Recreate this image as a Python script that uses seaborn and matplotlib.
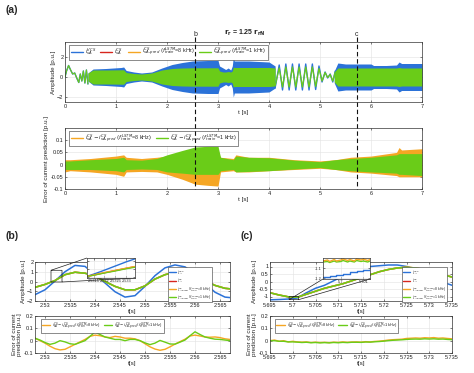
import numpy as np
import matplotlib
matplotlib.use("Agg")
import matplotlib.pyplot as plt
import seaborn as sns
from matplotlib.lines import Line2D
from matplotlib.ticker import FormatStrFormatter
from matplotlib.transforms import blended_transform_factory

# ------------------ colours ------------------
BLUE = '#2b72d8'
RED = '#d7261e'
ORANGE = '#f5a623'
GREEN = '#6acc18'

# ------------------ (a) amplitude, 0..7 s ------------------
t_start = [0, 0.03, 0.07, 0.11, 0.15, 0.19, 0.23, 0.27, 0.3, 0.33, 0.36, 0.39, 0.42, 0.45]
v_start = [0.0, 0.6, 1.15, 0.7, 0.3, 0.4, -0.1, -0.55, 0.3, -0.4, 0.6, -0.6, 0.7, -0.7]

t_band1 = [0.45, 0.55, 0.8, 1.1, 1.15, 1.2, 1.35, 1.5, 1.7, 1.9, 2.1, 2.3, 2.5, 2.8, 3.0,
           3.03, 3.1, 3.15, 3.2, 3.25, 3.28, 3.3, 3.32, 3.4, 3.6, 3.8, 4.0, 4.12]
blue_amp1 = [0.4, 0.8, 0.85, 0.95, 1.0, 0.65, 0.5, 0.4, 0.5, 0.9, 1.25, 1.45, 1.6, 1.65, 1.65,
             1.1, 0.9, 0.75, 0.9, 0.7, 1.1, 2.0, 1.6, 1.6, 1.6, 1.55, 1.5, 1.1]
green_amp1 = [0.4, 0.7, 0.7, 0.72, 0.72, 0.45, 0.35, 0.3, 0.4, 0.7, 0.85, 0.9, 0.92, 0.92, 0.92,
              0.6, 0.5, 0.5, 0.55, 0.5, 0.6, 1.0, 0.95, 0.95, 0.95, 0.95, 0.95, 0.9]

t_lf = [4.12, 4.2, 4.265, 4.33, 4.395, 4.46, 4.525, 4.59, 4.655, 4.72, 4.785, 4.85, 4.915,
        4.98, 5.04, 5.1, 5.15, 5.2, 5.25, 5.3]
blue_lf = [-1.1, 1.2, -1.3, 1.3, -1.3, 1.3, -1.3, 1.3, -1.3, 1.3, -1.3, 1.3, -1.25, 1.1,
           -0.5, 0.5, -0.1, 0.3, -0.5, 0.6]
green_lf = [-0.9, 0.9, -1.0, 1.0, -1.0, 1.0, -1.0, 1.0, -1.0, 1.0, -1.0, 1.0, -0.95, 0.85,
            -0.4, 0.45, -0.05, 0.25, -0.4, 0.5]

t_band2 = [5.28, 5.35, 5.5, 5.7, 5.9, 6.0, 6.05, 6.3, 6.5, 6.55, 6.6, 6.8, 7.0]
blue_amp2 = [0.6, 1.4, 1.3, 1.3, 1.3, 1.3, 1.15, 1.15, 1.2, 1.5, 1.35, 1.35, 1.35]
green_amp2 = [0.5, 0.9, 0.9, 0.9, 0.9, 0.9, 0.9, 0.9, 0.9, 0.95, 0.9, 0.9, 0.9]

# ------------------ (a) prediction error envelopes ------------------
t_err = [0.0, 0.1, 0.5, 1.0, 1.15, 1.2, 1.5, 1.8, 2.0, 2.3, 2.55, 2.8, 3.0, 3.05, 3.3, 3.35,
         3.6, 4.0, 4.5, 5.0, 5.3, 5.6, 6.0, 6.5, 6.55, 6.6, 7.0]
orange_hi = [0.02, 0.02, 0.025, 0.035, 0.04, 0.03, 0.025, 0.03, 0.035, 0.045, 0.05, 0.05, 0.05,
             0.03, 0.025, 0.04, 0.03, 0.03, 0.02, 0.015, 0.02, 0.03, 0.035, 0.05, 0.07, 0.06, 0.065]
orange_lo = [-0.03, -0.025, -0.03, -0.04, -0.048, -0.03, -0.028, -0.03, -0.04, -0.06, -0.08,
             -0.085, -0.088, -0.03, -0.025, -0.03, -0.03, -0.025, -0.02, -0.015, -0.02, -0.03,
             -0.035, -0.045, -0.05, -0.05, -0.05]
green_hi = [0.015, 0.015, 0.02, 0.025, 0.03, 0.02, 0.018, 0.025, 0.04, 0.058, 0.072, 0.075, 0.075,
            0.03, 0.02, 0.035, 0.03, 0.028, 0.018, 0.012, 0.02, 0.025, 0.03, 0.04, 0.045, 0.045, 0.045]
green_lo = [-0.02, -0.02, -0.02, -0.025, -0.03, -0.02, -0.018, -0.02, -0.03, -0.035, -0.04,
            -0.04, -0.04, -0.025, -0.02, -0.03, -0.028, -0.025, -0.018, -0.012, -0.02, -0.025,
            -0.03, -0.035, -0.04, -0.04, -0.045]

t_marks = [2.55, 5.72]
mark_names = ['b', 'c']

# ------------------ (b) zoom around 2.55 s ------------------
t_b = [2.528, 2.530, 2.532, 2.534, 2.536, 2.538, 2.540, 2.542, 2.544, 2.546, 2.548, 2.550,
       2.552, 2.554, 2.556, 2.558, 2.560, 2.562, 2.564, 2.566, 2.567]
blue_b = [-1.35, -0.85, 0.05, 1.0, 1.65, 1.55, 0.7, -0.15, -1.05, -1.6, -1.45, -0.5, 0.6,
          1.4, 1.7, 1.5, 0.8, -0.2, -1.1, -1.6, -1.65]
green_b = [-0.6, -0.3, 0.1, 0.7, 0.95, 0.85, 0.55, 0.0, -0.5, -0.85, -0.85, -0.45, 0.25,
           0.7, 0.95, 0.95, 0.6, 0.1, -0.4, -0.7, -0.75]

t_bi = [2.5312, 2.5315, 2.5318, 2.5321, 2.5324, 2.5327, 2.533, 2.5334]
blue_bi = [0.05, 0.18, 0.32, 0.47, 0.62, 0.77, 0.92, 1.1]
red_bi = [0.05, 0.12, 0.21, 0.29, 0.37, 0.45, 0.53, 0.63]
orange_bi = [0.05, 0.13, 0.22, 0.3, 0.38, 0.46, 0.54, 0.64]
green_bi = [0.05, 0.11, 0.19, 0.27, 0.34, 0.42, 0.5, 0.59]

t_be = [2.528, 2.529, 2.530, 2.531, 2.532, 2.533, 2.534, 2.535, 2.536, 2.537, 2.538, 2.539,
        2.540, 2.541, 2.542, 2.543, 2.544, 2.545, 2.546, 2.547, 2.548, 2.549, 2.550, 2.551,
        2.552, 2.553, 2.554, 2.555, 2.556, 2.557, 2.558, 2.559, 2.560, 2.561, 2.562, 2.563,
        2.564, 2.565, 2.566, 2.567]
orange_be = [0.02, 0.0, -0.02, -0.045, -0.065, -0.075, -0.07, -0.05, -0.03, -0.01, 0.01, 0.035,
             0.045, 0.04, 0.03, 0.025, 0.035, 0.03, 0.02, 0.02,
             0.015, 0.0, -0.025, -0.05, -0.068, -0.078, -0.07, -0.05, -0.028, -0.008, 0.012,
             0.038, 0.045, 0.038, 0.03, 0.028, 0.03, 0.025, 0.015, 0.01]
green_be = [0.02, 0.005, -0.015, -0.03, -0.02, 0.0, -0.01, -0.025, -0.03, -0.015, 0.0, 0.035,
            0.07, 0.05, 0.03, 0.02, 0.01, 0.01, 0.0, 0.01,
            0.01, 0.0, -0.018, -0.032, -0.02, 0.002, -0.012, -0.027, -0.028, -0.012, 0.005,
            0.04, 0.072, 0.05, 0.03, 0.02, 0.012, 0.01, 0.005, 0.0]

# ------------------ (c) zoom around 5.7 s ------------------
t_c = [5.695, 5.697, 5.699, 5.701, 5.703, 5.705, 5.707, 5.709, 5.711, 5.713, 5.715, 5.717,
       5.719, 5.721, 5.723, 5.725, 5.727, 5.729, 5.731, 5.733, 5.735]
blue_c = [-1.22, -1.2, -1.17, -1.1, -0.75, -0.45, -0.25, 0.05, 0.35, 0.6, 0.85, 1.0, 1.05,
          1.1, 1.1, 1.0, 0.8, 0.5, 0.2, -0.05, -0.25]
green_c = [-0.75, -0.9, -1.02, -1.05, -0.85, -0.65, -0.45, -0.3, -0.15, 0.05, 0.25, 0.45,
           0.65, 0.8, 0.9, 0.95, 0.9, 0.8, 0.65, 0.45, 0.3]

t_ci = [5.6992, 5.6995, 5.6998, 5.7001, 5.7004, 5.7007, 5.701, 5.7013]
blue_ci = [-1.19, -1.18, -1.17, -1.16, -1.14, -1.13, -1.12, -1.1]
t_ci_noise = [5.6992, 5.6994, 5.6995, 5.6997, 5.6998, 5.7, 5.7001, 5.7003, 5.7004, 5.7006,
              5.7007, 5.7009, 5.701, 5.7012, 5.7013]
orange_ci = [-1.03, -1.02, -1.035, -1.015, -1.03, -1.02, -1.01, -1.025, -1.015, -1.03, -1.01,
             -1.02, -1.012, -1.025, -1.015]
green_ci = [-1.04, -1.035, -1.045, -1.03, -1.04, -1.035, -1.025, -1.04, -1.03, -1.04, -1.025,
            -1.035, -1.03, -1.04, -1.03]

t_ce = [5.695 + 0.001 * i for i in range(41)]
orange_ce = [0.0, 0.005, -0.005, 0.0, -0.01, -0.005, -0.01, -0.012, -0.01, -0.015, -0.012,
             -0.015, -0.013, -0.016, -0.012, -0.014, -0.01, -0.013, -0.011, -0.01, -0.012,
             -0.008, -0.01, -0.006, -0.004, 0.0, 0.005, 0.008, 0.01, 0.012, 0.018, 0.02, 0.022,
             0.02, 0.024, 0.022, 0.025, 0.02, 0.022, 0.018, 0.015]
green_ce = [0.0, 0.0, -0.005, -0.005, -0.01, -0.01, -0.012, -0.015, -0.013, -0.017, -0.015,
            -0.018, -0.016, -0.018, -0.015, -0.017, -0.014, -0.016, -0.013, -0.013, -0.014,
            -0.011, -0.012, -0.009, -0.007, -0.004, 0.0, 0.003, 0.005, 0.007, 0.01, 0.012,
            0.013, 0.012, 0.015, 0.013, 0.015, 0.012, 0.013, 0.01, 0.008]

# ------------------ labels ------------------
LBL_VCS = r'$i_{sA}^{VCS}$'
LBL_CS = r'$i_{sA}^{CS}$'
LBL_P8 = r'$i_{sA,pred}^{CS}$ $(f_{train}^{LSTM}$=8 kHz)'
LBL_P1 = r'$i_{sA,pred}^{CS}$ $(f_{train}^{LSTM}$=1 kHz)'
LBL_E8 = r'$i_{sA}^{CS}-i_{sA,pred}^{CS}$ $(f_{train}^{LSTM}$=8 kHz)'
LBL_E1 = r'$i_{sA}^{CS}-i_{sA,pred}^{CS}$ $(f_{train}^{LSTM}$=1 kHz)'

# ------------------ style ------------------
sns.set_theme(style="whitegrid")
plt.rcParams['font.family'] = ['Liberation Sans', 'DejaVu Sans']
plt.rcParams.update({
    'axes.edgecolor': '#333333', 'axes.linewidth': 0.5,
    'grid.color': '#e2e2e2', 'grid.linewidth': 0.4,
    'xtick.labelsize': 4, 'ytick.labelsize': 4,
    'xtick.direction': 'in', 'ytick.direction': 'in',
    'xtick.major.size': 1.5, 'ytick.major.size': 1.5,
    'xtick.major.width': 0.4, 'ytick.major.width': 0.4,
    'xtick.major.pad': 1.5, 'ytick.major.pad': 1.2,
    'xtick.bottom': True, 'ytick.left': True,
    'xtick.color': '#222222', 'ytick.color': '#222222',
})


def style_ax(ax, xlabel, ylabel):
    ax.set_xlabel(xlabel, fontsize=4.5, labelpad=1)
    ax.set_ylabel(ylabel, fontsize=4.5, labelpad=1)
    ax.tick_params(top=True, right=True)
    for s in ax.spines.values():
        s.set_visible(True)
        s.set_linewidth(0.5)
        s.set_color('#333333')


def line(ax, x, y, color, lw=1.0, **kw):
    sns.lineplot(x=x, y=y, ax=ax, color=color, lw=lw, estimator=None, sort=False,
                 legend=False, **kw)


def legend(ax, colors, labels, size=3.3, spacing=0.3, **kw):
    hs = [Line2D([], [], color=c, lw=1.0) for c in colors]
    leg = ax.legend(hs, labels, fontsize=size, frameon=True, fancybox=False,
                    handlelength=2.2, handletextpad=0.4, borderpad=0.25, labelspacing=spacing,
                    columnspacing=0.8, borderaxespad=0, **kw)
    leg.get_frame().set_edgecolor('#333333')
    leg.get_frame().set_linewidth(0.4)
    leg.get_frame().set_alpha(1)


W, H = 474, 373
fig = plt.figure(figsize=(W / 100, H / 100), dpi=100)


def px_axes(x0, y0, x1, y1):
    return fig.add_axes([x0 / W, 1 - y1 / H, (x1 - x0) / W, (y1 - y0) / H])


# ------------------ (a) ------------------
axA = px_axes(65, 42, 422, 102)
axA.fill_between(t_band1, -np.array(blue_amp1), blue_amp1, color=BLUE, lw=0)
axA.fill_between(t_band2, -np.array(blue_amp2), blue_amp2, color=BLUE, lw=0)
line(axA, t_lf, blue_lf, BLUE, lw=1.0)
line(axA, t_start, v_start, BLUE, lw=1.0)
axA.fill_between(t_band1, -np.array(green_amp1), green_amp1, color=GREEN, lw=0)
axA.fill_between(t_band2, -np.array(green_amp2), green_amp2, color=GREEN, lw=0)
line(axA, t_lf, green_lf, GREEN, lw=0.9)
line(axA, t_start, v_start, GREEN, lw=0.8)
axA.set_xlim(0, 7)
axA.set_ylim(-2.5, 3.5)
axA.set_yticks([-2, 0, 2])
axA.set_xticks(range(8))
style_ax(axA, 't [s]', 'Amplitude [p.u.]')
legend(axA, [BLUE, RED, ORANGE, GREEN], [LBL_VCS, LBL_CS, LBL_P8, LBL_P1], size=3.9,
       spacing=0.2, loc='upper left', bbox_to_anchor=(0.012, 0.95), ncol=4)

axE = px_axes(65, 128, 422, 189)
axE.fill_between(t_err, orange_lo, orange_hi, color=ORANGE, lw=0)
axE.fill_between(t_err, green_lo, green_hi, color=GREEN, lw=0)
axE.set_xlim(0, 7)
axE.set_ylim(-0.1, 0.15)
axE.set_yticks([-0.1, -0.05, 0, 0.05, 0.1])
axE.yaxis.set_major_formatter(FormatStrFormatter('%g'))
axE.set_xticks(range(8))
style_ax(axE, 't [s]', 'Error of current prediction [p.u.]')
legend(axE, [ORANGE, GREEN], [LBL_E8, LBL_E1], size=3.9, spacing=0.2, loc='upper left',
       bbox_to_anchor=(0.012, 0.95), ncol=2)

trans = blended_transform_factory(axA.transData, fig.transFigure)
for tm, name in zip(t_marks, mark_names):
    fig.add_artist(Line2D([tm, tm], [1 - 37 / H, 1 - 189 / H], transform=trans,
                          color='#111111', lw=0.8, ls=(0, (4, 2.5))))
    fig.text(tm, 1 - 34 / H, name, transform=trans, fontsize=5, ha='center', va='center')
fig.text(245 / W, 1 - 33 / H, r'$\mathbf{r_r}$ = 1.25 $\mathbf{r_{rN}}$', fontsize=5,
         fontweight='bold', ha='center', va='center')

# ------------------ (b) ------------------
axB = px_axes(35, 262, 230, 301)
line(axB, t_b, blue_b, BLUE, lw=1.1)
line(axB, t_b, green_b, RED, lw=1.1)
line(axB, t_b, green_b, ORANGE, lw=1.1)
line(axB, t_b, green_b, GREEN, lw=1.1)
axB.set_xlim(2.528, 2.567)
axB.set_ylim(-2, 2)
axB.set_xticks([2.53, 2.535, 2.54, 2.545, 2.55, 2.555, 2.56, 2.565])
axB.xaxis.set_major_formatter(FormatStrFormatter('%g'))
axB.set_yticks([-2, -1, 0, 1, 2])
style_ax(axB, 't[s]', 'Amplitude [p.u.]')
legend(axB, [BLUE, RED, ORANGE, GREEN], [LBL_VCS, LBL_CS, LBL_P8, LBL_P1],
       size=2.4, spacing=0.05, loc='upper right', bbox_to_anchor=(0.91, 0.87), ncol=1)

axBi = px_axes(87, 258, 135, 278)
line(axBi, t_bi, blue_bi, BLUE, lw=1.0)
line(axBi, t_bi, red_bi, RED, lw=1.0)
line(axBi, t_bi, orange_bi, ORANGE, lw=1.0)
line(axBi, t_bi, green_bi, GREEN, lw=0.8)
axBi.set_xlim(2.5312, 2.5334)
axBi.set_ylim(-0.05, 1.15)
axBi.set_xticks([2.5315, 2.532, 2.5325, 2.533])
axBi.xaxis.set_major_formatter(FormatStrFormatter('%g'))
axBi.set_yticks([0, 0.5, 1])
axBi.set_yticklabels([])
axBi.tick_params(labelsize=2.8, pad=0.8)
style_ax(axBi, '', '')
axB.indicate_inset_zoom(axBi, edgecolor='#222222', lw=0.5, alpha=1)

axBe = px_axes(35, 316, 230, 353)
line(axBe, t_be, orange_be, ORANGE, lw=1.0)
line(axBe, t_be, green_be, GREEN, lw=1.0)
axBe.set_xlim(2.528, 2.567)
axBe.set_ylim(-0.1, 0.2)
axBe.set_xticks([2.53, 2.535, 2.54, 2.545, 2.55, 2.555, 2.56, 2.565])
axBe.xaxis.set_major_formatter(FormatStrFormatter('%g'))
axBe.set_yticks([-0.1, 0, 0.1, 0.2])
axBe.yaxis.set_major_formatter(FormatStrFormatter('%g'))
style_ax(axBe, 't[s]', 'Error of current\nprediction [p.u.]')
legend(axBe, [ORANGE, GREEN], [LBL_E8, LBL_E1], size=2.8, loc='upper left',
       bbox_to_anchor=(0.03, 0.92), ncol=2)

# ------------------ (c) ------------------
axC = px_axes(270, 262, 452, 301)
line(axC, t_c, blue_c, BLUE, lw=1.1)
line(axC, t_c, green_c, RED, lw=1.1)
line(axC, t_c, green_c, ORANGE, lw=1.1)
line(axC, t_c, green_c, GREEN, lw=1.1)
axC.set_xlim(5.695, 5.735)
axC.set_ylim(-1.3, 1.3)
axC.set_xticks([5.695, 5.7, 5.705, 5.71, 5.715, 5.72, 5.725, 5.73, 5.735])
axC.xaxis.set_major_formatter(FormatStrFormatter('%g'))
axC.set_yticks([-1, -0.5, 0, 0.5, 1])
axC.yaxis.set_major_formatter(FormatStrFormatter('%g'))
style_ax(axC, 't[s]', 'Amplitude [p.u.]')
legend(axC, [BLUE, RED, ORANGE, GREEN], [LBL_VCS, LBL_CS, LBL_P8, LBL_P1],
       size=2.4, spacing=0.05, loc='upper right', bbox_to_anchor=(0.97, 0.87), ncol=1)

axCi = px_axes(323, 258, 370, 279)
line(axCi, t_ci, blue_ci, BLUE, lw=1.0, drawstyle='steps-post')
line(axCi, t_ci_noise, green_ci, GREEN, lw=1.0)
line(axCi, t_ci_noise, orange_ci, ORANGE, lw=1.0)
axCi.set_xlim(5.6992, 5.7013)
axCi.set_ylim(-1.21, -1.0)
axCi.set_xticks([5.7, 5.701])
axCi.xaxis.set_major_formatter(FormatStrFormatter('%g'))
axCi.set_yticks([-1.2, -1.1])
axCi.yaxis.set_major_formatter(FormatStrFormatter('%g'))
axCi.tick_params(labelsize=2.8, pad=0.8)
style_ax(axCi, '', '')
axC.indicate_inset_zoom(axCi, edgecolor='#222222', lw=0.5, alpha=1)

axCe = px_axes(270, 316, 452, 353)
line(axCe, t_ce, orange_ce, ORANGE, lw=1.0)
line(axCe, t_ce, green_ce, GREEN, lw=1.0)
axCe.set_xlim(5.695, 5.735)
axCe.set_ylim(-0.1, 0.2)
axCe.set_xticks([5.695, 5.7, 5.705, 5.71, 5.715, 5.72, 5.725, 5.73, 5.735])
axCe.xaxis.set_major_formatter(FormatStrFormatter('%g'))
axCe.set_yticks([-0.1, 0, 0.1, 0.2])
axCe.yaxis.set_major_formatter(FormatStrFormatter('%g'))
style_ax(axCe, 't[s]', 'Error of current\nprediction [p.u.]')
legend(axCe, [ORANGE, GREEN], [LBL_E8, LBL_E1], size=2.8, loc='upper left',
       bbox_to_anchor=(0.03, 0.92), ncol=2)

# ------------------ panel letters ------------------
fig.text(5 / W, 1 - 10 / H, '(a)', fontsize=7.5, fontweight='bold', va='center')
fig.text(5 / W, 1 - 236 / H, '(b)', fontsize=7.5, fontweight='bold', va='center')
fig.text(240 / W, 1 - 236 / H, '(c)', fontsize=7.5, fontweight='bold', va='center')

fig.savefig('out.png', dpi=100)
